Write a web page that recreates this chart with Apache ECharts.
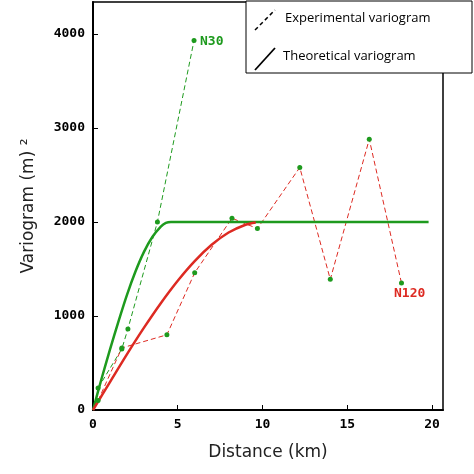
<!DOCTYPE html><html><head><meta charset="utf-8"><script src="https://cdn.jsdelivr.net/npm/echarts@6/dist/echarts.min.js"></script></head><body style="margin:0"><div id="c" style="width:474px;height:474px"></div><script>
const n30Exp=[[0.3,234],[1.7,650],[2.06,862],[3.8,2000],[5.96,3930]];
const n120Exp=[[0.3,100],[1.7,660],[4.36,800],[6.0,1460],[8.2,2040],[9.7,1930],[12.2,2580],[14,1390],[16.3,2880],[18.2,1350]];
const n30Th=[[0,0],[0.5,330],[1,642],[1.5,940],[2,1222],[2.5,1470],[3,1679],[3.5,1840],[4,1951],[4.3,1990],[4.6,2000],[19.8,2000]];
const n120Th=[[0,0],[1,297],[2,592],[3,873],[4,1136],[5,1375],[6,1584],[7,1757],[8,1888],[9,1971],[9.6,1995]];
const xTicks=[0,5,10,15,20], yTicks=[0,1000,2000,3000,4000];
const G='#1e9a1e',R='#dd2a22';
const mono='DejaVu Sans Mono';
const c=echarts.init(document.getElementById('c'));
c.setOption({animation:false,
grid:{left:93,right:31,top:2,bottom:64,show:true,borderColor:'#000',borderWidth:1.5},
xAxis:{type:'value',min:0,max:20.65,interval:5,axisLine:{lineStyle:{color:'#000',width:2}},axisTick:{inside:true,length:5,lineStyle:{color:'#000'}},splitLine:{show:false},
 axisLabel:{formatter:v=>xTicks.includes(v)?v:'',fontFamily:mono,fontWeight:'bold',fontSize:13,color:'#000',showMaxLabel:false},
 name:'Distance (km)',nameLocation:'middle',nameGap:34,nameTextStyle:{fontFamily:'DejaVu Sans',fontSize:17,color:'#222'}},
yAxis:{type:'value',min:0,max:4340,interval:1000,axisLine:{lineStyle:{color:'#000',width:2}},axisTick:{inside:true,length:5,lineStyle:{color:'#000'}},splitLine:{show:false},
 axisLabel:{formatter:v=>yTicks.includes(v)?v:'',fontFamily:mono,fontWeight:'bold',fontSize:13,color:'#000',showMaxLabel:false},
 name:'Variogram (m) ²',nameLocation:'middle',nameGap:56,nameTextStyle:{fontFamily:'DejaVu Sans',fontSize:17,color:'#222'}},
series:[
{type:'line',data:n30Exp,lineStyle:{color:G,type:[5,3],width:1},itemStyle:{color:G},symbol:'circle',symbolSize:5},
{type:'line',data:n120Exp,lineStyle:{color:R,type:[5,3],width:1},itemStyle:{color:G},symbol:'circle',symbolSize:5},
{type:'line',data:n30Th,smooth:0.3,showSymbol:false,lineStyle:{color:G,width:2.5}},
{type:'line',data:n120Th,smooth:0.3,showSymbol:false,lineStyle:{color:R,width:2.5}}
],
graphic:[
{type:'rect',shape:{x:246,y:1,width:226,height:72},style:{fill:'#fff',stroke:'#000',lineWidth:1}},
{type:'line',shape:{x1:255,y1:30,x2:275,y2:10},style:{stroke:'#000',lineWidth:1.5,lineDash:[4,3]}},
{type:'line',shape:{x1:255,y1:70,x2:275,y2:48},style:{stroke:'#000',lineWidth:1.8}},
{type:'text',left:285,top:12,style:{text:'Experimental variogram',font:'13px "Open Sans"',fill:'#000'}},
{type:'text',left:283,top:50,style:{text:'Theoretical variogram',font:'13px "Open Sans"',fill:'#000'}},
{type:'text',left:200,top:35,style:{text:'N30',font:'bold 13px "DejaVu Sans Mono"',fill:G}},
{type:'text',left:394,top:287,style:{text:'N120',font:'bold 13px "DejaVu Sans Mono"',fill:R}}
]});
</script></body></html>
